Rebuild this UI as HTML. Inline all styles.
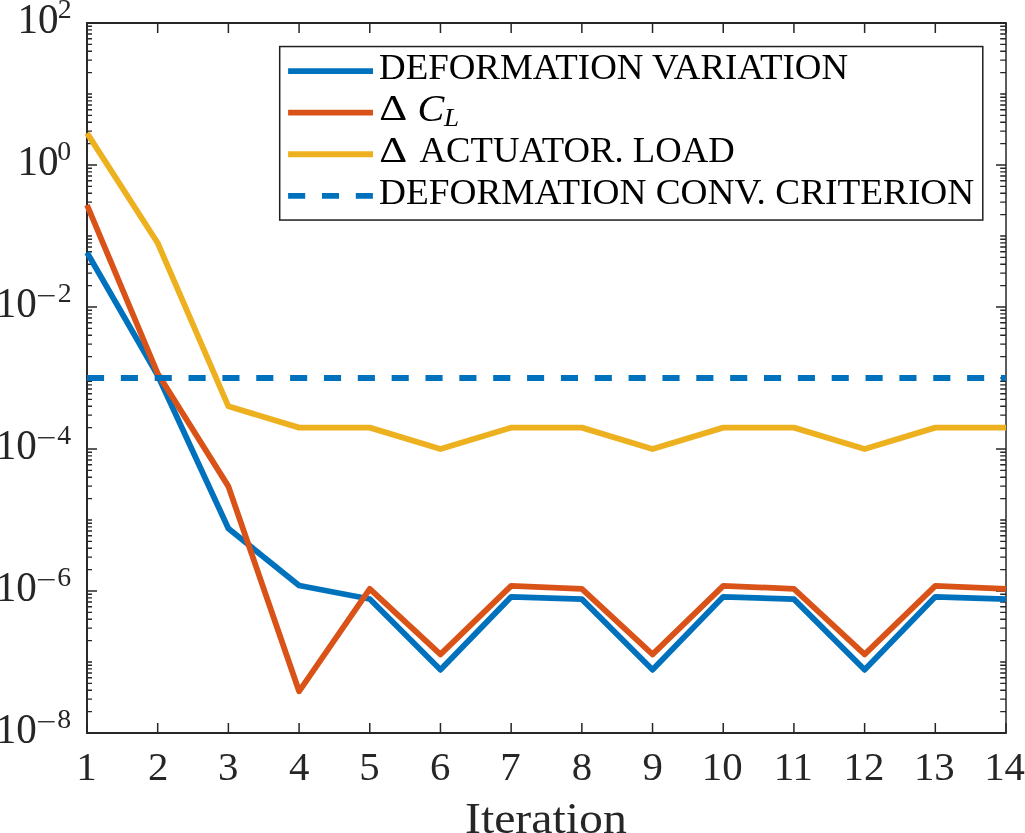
<!DOCTYPE html>
<html><head><meta charset="utf-8"><style>html,body{margin:0;padding:0;background:#fff;overflow:hidden}svg{display:block}</style></head>
<body>
<svg width="1025" height="833" viewBox="0 0 1025 833">
<rect width="1025" height="833" fill="#fff"/>
<path d="M87.0,711.63H92M1006.0,711.63H1000.2M87.0,699.12H92M1006.0,699.12H1000.2M87.0,690.25H92M1006.0,690.25H1000.2M87.0,683.37H92M1006.0,683.37H1000.2M87.0,677.75H92M1006.0,677.75H1000.2M87.0,673.0H92M1006.0,673.0H1000.2M87.0,668.88H92M1006.0,668.88H1000.2M87.0,665.25H92M1006.0,665.25H1000.2M87.0,662.0H92M1006.0,662.0H1000.2M87.0,640.63H92M1006.0,640.63H1000.2M87.0,628.12H92M1006.0,628.12H1000.2M87.0,619.25H92M1006.0,619.25H1000.2M87.0,612.37H92M1006.0,612.37H1000.2M87.0,606.75H92M1006.0,606.75H1000.2M87.0,602.0H92M1006.0,602.0H1000.2M87.0,597.88H92M1006.0,597.88H1000.2M87.0,594.25H92M1006.0,594.25H1000.2M87.0,591.0H97.0M1006.0,591.0H996.0M87.0,569.63H92M1006.0,569.63H1000.2M87.0,557.12H92M1006.0,557.12H1000.2M87.0,548.25H92M1006.0,548.25H1000.2M87.0,541.37H92M1006.0,541.37H1000.2M87.0,535.75H92M1006.0,535.75H1000.2M87.0,531.0H92M1006.0,531.0H1000.2M87.0,526.88H92M1006.0,526.88H1000.2M87.0,523.25H92M1006.0,523.25H1000.2M87.0,520.0H92M1006.0,520.0H1000.2M87.0,498.63H92M1006.0,498.63H1000.2M87.0,486.12H92M1006.0,486.12H1000.2M87.0,477.25H92M1006.0,477.25H1000.2M87.0,470.37H92M1006.0,470.37H1000.2M87.0,464.75H92M1006.0,464.75H1000.2M87.0,460.0H92M1006.0,460.0H1000.2M87.0,455.88H92M1006.0,455.88H1000.2M87.0,452.25H92M1006.0,452.25H1000.2M87.0,449.0H97.0M1006.0,449.0H996.0M87.0,427.63H92M1006.0,427.63H1000.2M87.0,415.12H92M1006.0,415.12H1000.2M87.0,406.25H92M1006.0,406.25H1000.2M87.0,399.37H92M1006.0,399.37H1000.2M87.0,393.75H92M1006.0,393.75H1000.2M87.0,389.0H92M1006.0,389.0H1000.2M87.0,384.88H92M1006.0,384.88H1000.2M87.0,381.25H92M1006.0,381.25H1000.2M87.0,378.0H92M1006.0,378.0H1000.2M87.0,356.63H92M1006.0,356.63H1000.2M87.0,344.12H92M1006.0,344.12H1000.2M87.0,335.25H92M1006.0,335.25H1000.2M87.0,328.37H92M1006.0,328.37H1000.2M87.0,322.75H92M1006.0,322.75H1000.2M87.0,318.0H92M1006.0,318.0H1000.2M87.0,313.88H92M1006.0,313.88H1000.2M87.0,310.25H92M1006.0,310.25H1000.2M87.0,307.0H97.0M1006.0,307.0H996.0M87.0,285.63H92M1006.0,285.63H1000.2M87.0,273.12H92M1006.0,273.12H1000.2M87.0,264.25H92M1006.0,264.25H1000.2M87.0,257.37H92M1006.0,257.37H1000.2M87.0,251.75H92M1006.0,251.75H1000.2M87.0,247.0H92M1006.0,247.0H1000.2M87.0,242.88H92M1006.0,242.88H1000.2M87.0,239.25H92M1006.0,239.25H1000.2M87.0,236.0H92M1006.0,236.0H1000.2M87.0,214.63H92M1006.0,214.63H1000.2M87.0,202.12H92M1006.0,202.12H1000.2M87.0,193.25H92M1006.0,193.25H1000.2M87.0,186.37H92M1006.0,186.37H1000.2M87.0,180.75H92M1006.0,180.75H1000.2M87.0,176.0H92M1006.0,176.0H1000.2M87.0,171.88H92M1006.0,171.88H1000.2M87.0,168.25H92M1006.0,168.25H1000.2M87.0,165.0H97.0M1006.0,165.0H996.0M87.0,143.63H92M1006.0,143.63H1000.2M87.0,131.12H92M1006.0,131.12H1000.2M87.0,122.25H92M1006.0,122.25H1000.2M87.0,115.37H92M1006.0,115.37H1000.2M87.0,109.75H92M1006.0,109.75H1000.2M87.0,105.0H92M1006.0,105.0H1000.2M87.0,100.88H92M1006.0,100.88H1000.2M87.0,97.25H92M1006.0,97.25H1000.2M87.0,94.0H92M1006.0,94.0H1000.2M87.0,72.63H92M1006.0,72.63H1000.2M87.0,60.12H92M1006.0,60.12H1000.2M87.0,51.25H92M1006.0,51.25H1000.2M87.0,44.37H92M1006.0,44.37H1000.2M87.0,38.75H92M1006.0,38.75H1000.2M87.0,34.0H92M1006.0,34.0H1000.2M87.0,29.88H92M1006.0,29.88H1000.2M87.0,26.25H92M1006.0,26.25H1000.2" stroke="#262626" stroke-width="1.3" fill="none"/>
<path d="M87.00,733.0v-10M87.00,23.0v10M157.69,733.0v-10M157.69,23.0v10M228.38,733.0v-10M228.38,23.0v10M299.08,733.0v-10M299.08,23.0v10M369.77,733.0v-10M369.77,23.0v10M440.46,733.0v-10M440.46,23.0v10M511.15,733.0v-10M511.15,23.0v10M581.85,733.0v-10M581.85,23.0v10M652.54,733.0v-10M652.54,23.0v10M723.23,733.0v-10M723.23,23.0v10M793.92,733.0v-10M793.92,23.0v10M864.62,733.0v-10M864.62,23.0v10M935.31,733.0v-10M935.31,23.0v10M1006.00,733.0v-10M1006.00,23.0v10" stroke="#262626" stroke-width="1.5" fill="none"/>
<path d="M86.05,23.0H1006.75" stroke="#262626" stroke-width="1.8"/>
<path d="M86.05,733.0H1006.75" stroke="#262626" stroke-width="1.8"/>
<path d="M87.0,23.0V733.0" stroke="#262626" stroke-width="1.95"/>
<path d="M1006.0,23.0V733.0" stroke="#262626" stroke-width="1.5"/>
<g fill="none" stroke-width="5.8" stroke-linejoin="round" stroke-linecap="butt">
<polyline points="87.00,252.50 157.69,375.20 228.38,528.50 299.08,585.50 369.77,599.00 440.46,669.80 511.15,596.80 581.85,599.10 652.54,669.80 723.23,596.80 793.92,599.10 864.62,669.80 935.31,596.80 1006.00,599.10" stroke="#0072BD"/>
<polyline points="87.00,205.00 157.69,373.50 228.38,486.40 299.08,691.30 369.77,588.90 440.46,654.40 511.15,585.80 581.85,588.80 652.54,654.40 723.23,585.80 793.92,588.80 864.62,654.40 935.31,585.80 1006.00,588.80" stroke="#D95319"/>
<polyline points="87.00,133.10 157.69,243.00 228.38,406.30 299.08,427.60 369.77,427.60 440.46,449.00 511.15,427.60 581.85,427.60 652.54,449.00 723.23,427.60 793.92,427.60 864.62,449.00 935.31,427.60 1006.00,427.60" stroke="#EDB120"/>
<line x1="87.0" y1="378" x2="1006.0" y2="378" stroke="#0072BD" stroke-dasharray="17.1 16.75"/>
</g>
<g font-family="Liberation Serif, serif" fill="#262626">
<text x="76.19" y="779.80" font-size="40.80">1</text>
<text x="147.90" y="779.80" font-size="40.80">2</text>
<text x="217.98" y="779.80" font-size="40.80">3</text>
<text x="288.88" y="779.80" font-size="40.80">4</text>
<text x="359.16" y="779.80" font-size="40.80">5</text>
<text x="430.06" y="779.80" font-size="40.80">6</text>
<text x="500.14" y="779.80" font-size="40.80">7</text>
<text x="571.65" y="779.80" font-size="40.80">8</text>
<text x="642.54" y="779.80" font-size="40.80">9</text>
<text x="701.81" y="779.80" font-size="40.80">10</text>
<text x="773.73" y="779.80" font-size="40.80">11</text>
<text x="843.60" y="779.80" font-size="40.80">12</text>
<text x="913.89" y="779.80" font-size="40.80">13</text>
<text x="984.17" y="779.80" font-size="40.80">14</text>
<text transform="translate(17.45 32.90) scale(0.9784 1)" font-size="42.00">10</text>
<text x="57.63" y="18.40" font-size="27.80">2</text>
<text transform="translate(17.45 174.90) scale(0.9784 1)" font-size="42.00">10</text>
<text x="57.35" y="160.40" font-size="27.80">0</text>
<text transform="translate(-4.35 316.90) scale(0.9784 1)" font-size="42.00">10</text>
<text transform="translate(36.20 304.51) scale(1.3075 1)" font-size="27.50">−</text>
<text x="57.63" y="302.40" font-size="27.80">2</text>
<text transform="translate(-4.35 458.90) scale(0.9784 1)" font-size="42.00">10</text>
<text transform="translate(36.20 446.51) scale(1.3075 1)" font-size="27.50">−</text>
<text x="57.35" y="444.40" font-size="27.80">4</text>
<text transform="translate(-4.35 600.90) scale(0.9784 1)" font-size="42.00">10</text>
<text transform="translate(36.20 588.51) scale(1.3075 1)" font-size="27.50">−</text>
<text x="57.21" y="586.40" font-size="27.80">6</text>
<text transform="translate(-4.35 742.90) scale(0.9784 1)" font-size="42.00">10</text>
<text transform="translate(36.20 730.51) scale(1.3075 1)" font-size="27.50">−</text>
<text x="57.35" y="728.40" font-size="27.80">8</text>
<text transform="translate(464.99 832.60) scale(1.0737 1)" font-size="44.50">Iteration</text>
</g>
<rect x="279.7" y="46.55" width="703.1" height="173.5" fill="#fff" stroke="#1f1f1f" stroke-width="1.5"/>
<line x1="288.1" y1="71.05" x2="373" y2="71.05" stroke="#0072BD" stroke-width="5.8"/>
<line x1="288.1" y1="112.65" x2="373" y2="112.65" stroke="#D95319" stroke-width="5.8"/>
<line x1="288.1" y1="154.25" x2="373" y2="154.25" stroke="#EDB120" stroke-width="5.8"/>
<line x1="288.1" y1="195.85" x2="373" y2="195.85" stroke="#0072BD" stroke-width="5.8" stroke-dasharray="17.1 16.75"/>
<g font-family="Liberation Serif, serif" fill="#000">
<text transform="translate(379.04 79.00) scale(1.0307 1)" font-size="35.80">DEFORMATION VARIATION</text>
<text transform="translate(379.16 120.40) scale(1.1920 1)" font-size="36.50">Δ</text>
<text transform="translate(417.49 121.32) scale(1.0653 1)" font-size="37.70" style="font-style:italic">C</text>
<text transform="translate(444.07 126.10) scale(1.0934 1)" font-size="24.80" style="font-style:italic">L</text>
<text transform="translate(379.16 162.20) scale(1.1920 1)" font-size="36.50">Δ</text>
<text transform="translate(419.53 162.20) scale(1.0248 1)" font-size="35.80">ACTUATOR. LOAD</text>
<text transform="translate(379.08 203.80) scale(1.0425 1)" font-size="35.80">DEFORMATION CONV. CRITERION</text>
</g>
</svg>
</body></html>
